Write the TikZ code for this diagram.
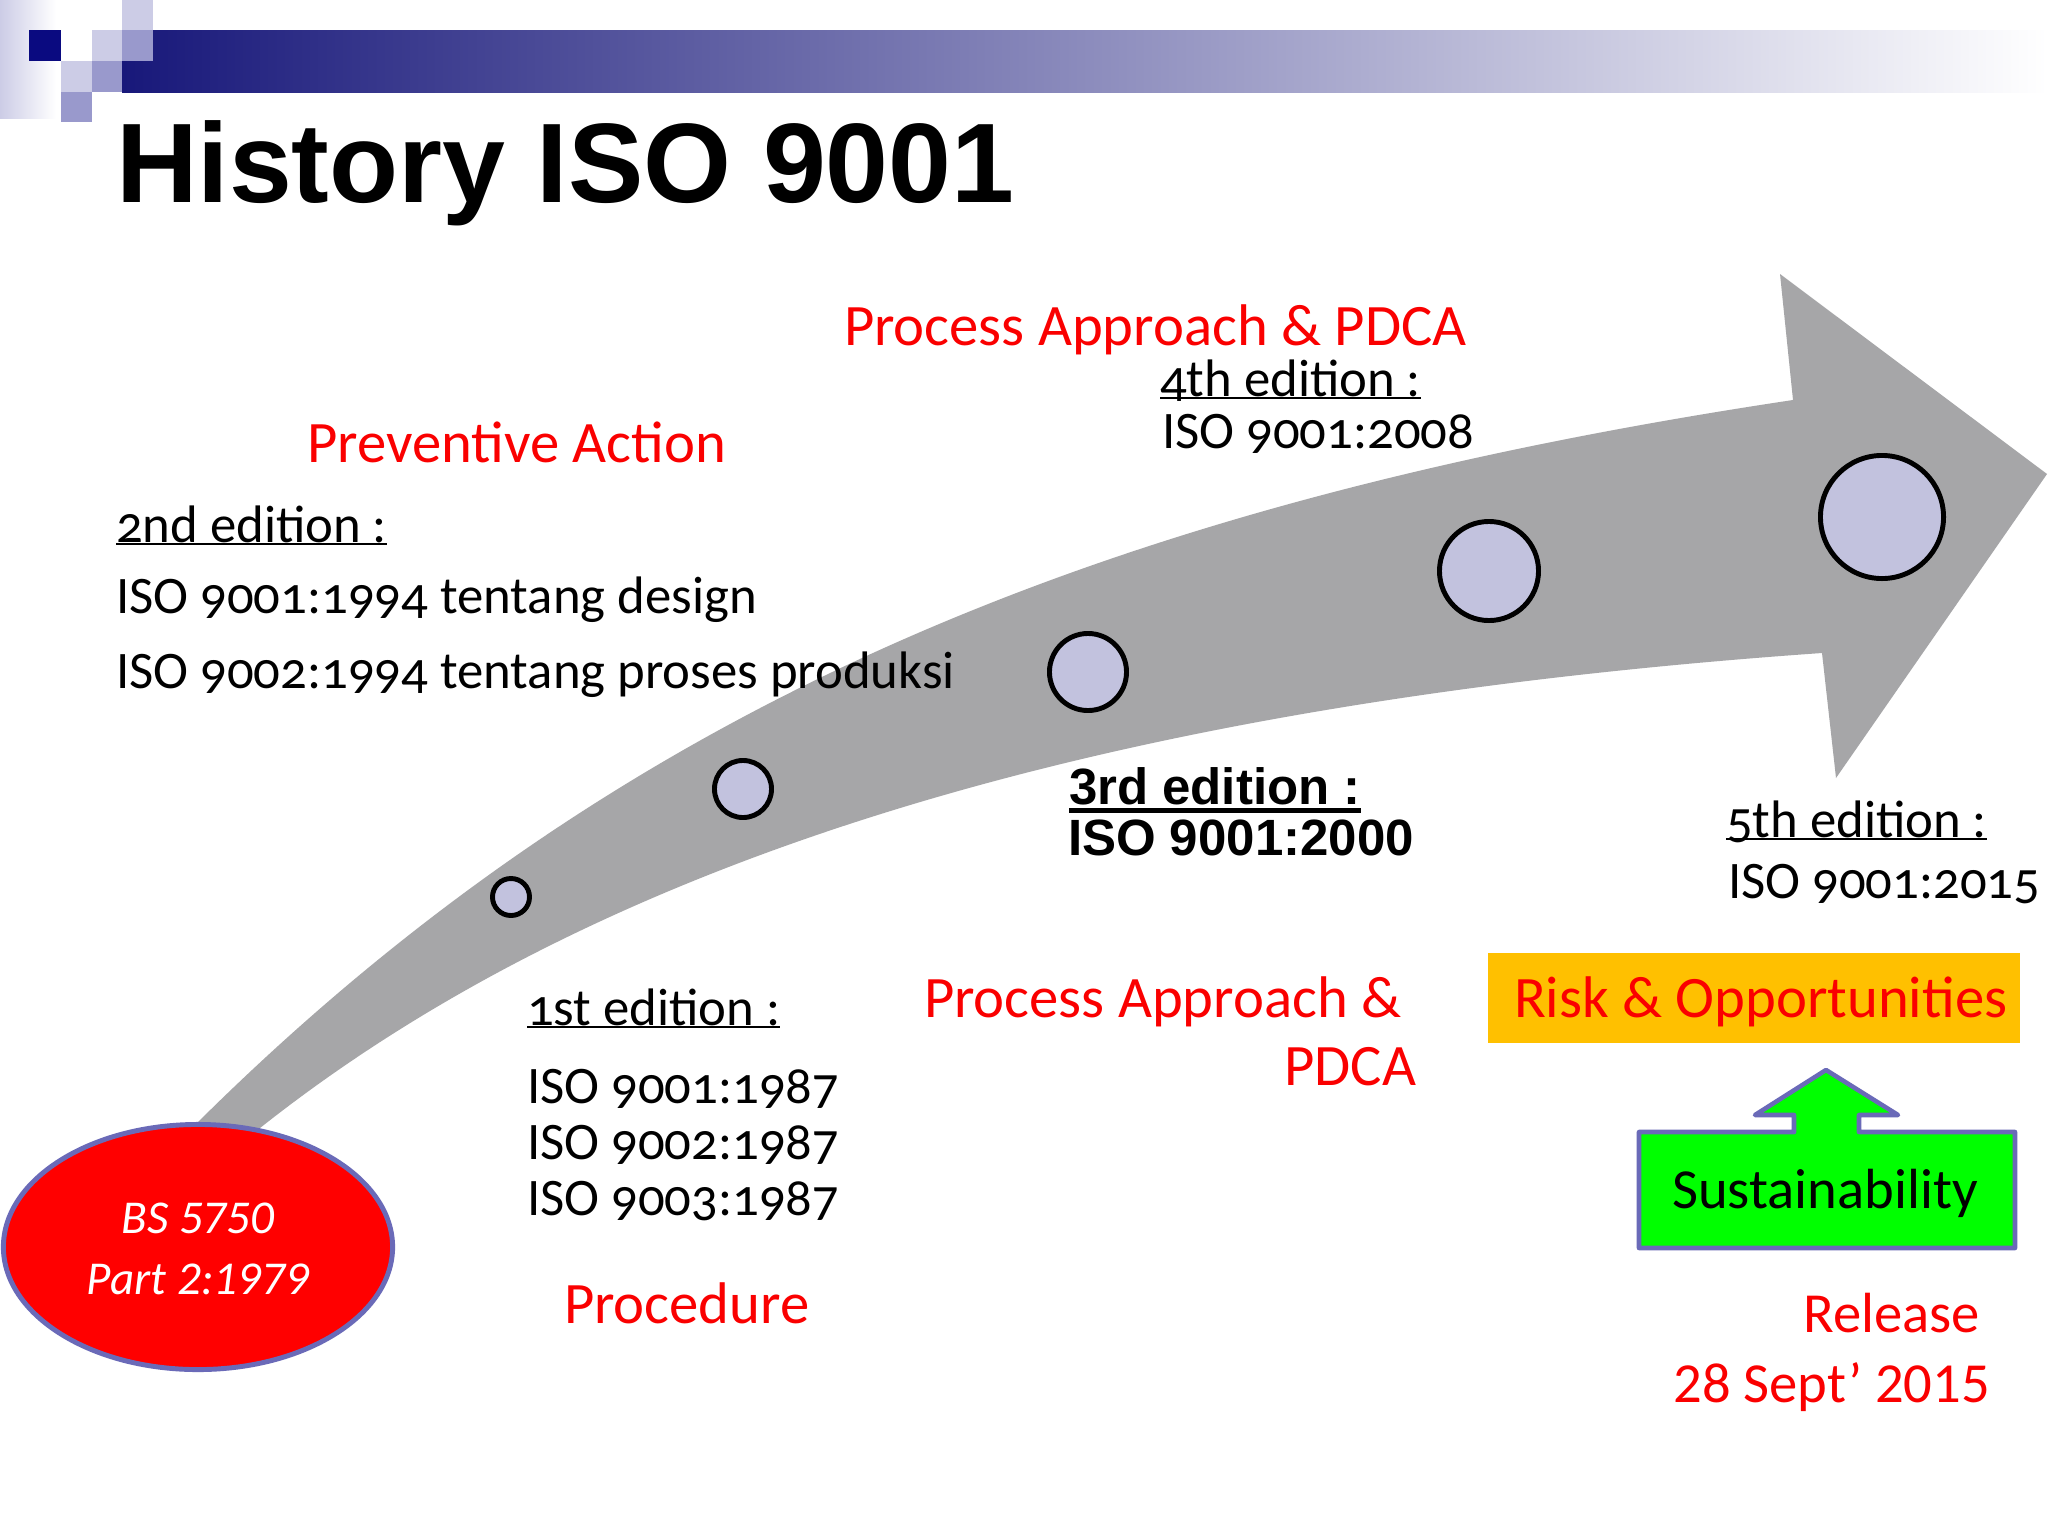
\documentclass[tikz,border=0pt]{standalone}
\usepackage{fontspec}
\setmainfont{Carlito}[Numbers=OldStyle]
\newfontfamily\liningfont{Carlito}
\newfontfamily\arialfont{Liberation Sans}
\usetikzlibrary{shapes.geometric}
\definecolor{navy}{RGB}{10,10,128}
\definecolor{lavA}{RGB}{204,204,230}
\definecolor{lavB}{RGB}{153,153,204}
\definecolor{barL}{RGB}{24,24,122}
\definecolor{agray}{RGB}{166,166,168}
\definecolor{dotfill}{RGB}{194,194,222}
\definecolor{edgeblue}{RGB}{106,106,184}
\definecolor{riskfill}{RGB}{255,192,0}
\definecolor{txtred}{RGB}{250,0,0}
\definecolor{sgreen}{RGB}{0,255,0}
\newcommand\ulthin[1]{\setbox0\hbox{#1}\rlap{\rule[-0.85pt]{\wd0}{0.55pt}}\box0}
\newcommand\ulthick[1]{\setbox0\hbox{#1}\rlap{\rule[-2.55pt]{\wd0}{1.3pt}}\box0}
\tikzset{
  txt/.style={inner sep=0pt, outer sep=0pt, anchor=base west},
  redtxt/.style={txt, text=txtred, font=\fontsize{16.7pt}{19pt}\selectfont},
  blktxt/.style={txt, text=black, font=\fontsize{15.0pt}{18pt}\selectfont},
  boldtxt/.style={txt, text=black, font=\arialfont\bfseries\fontsize{14.5pt}{17pt}\selectfont},
  titletxt/.style={txt, text=black, font=\arialfont\bfseries\fontsize{32.15pt}{38pt}\selectfont},
  elltxt/.style={inner sep=0pt, anchor=base, text=white, font=\liningfont\itshape\fontsize{13.4pt}{16pt}\selectfont},
  bigtxt/.style={txt, font=\liningfont\fontsize{16.1pt}{19pt}\selectfont},
  dot/.style={circle, draw=black, line width=1.4pt, fill=dotfill, inner sep=0pt},
}
\begin{document}
\begin{tikzpicture}[x=0.01cm, y=-0.01cm]
\useasboundingbox (0,0) rectangle (2048,1536);
\fill[white] (0,0) rectangle (2048,1536);
% top decoration
\shade[left color=lavA, right color=white] (0,0) rectangle (56,118);
\shade[left color=barL, right color=white] (122,30) rectangle (2048,92);
\fill[lavA] (122,0) rectangle (153,30);
\fill[navy] (29,30) rectangle (61,61);
\fill[lavA] (92,30) rectangle (122,61);
\fill[lavB] (122,30) rectangle (153,61);
\fill[lavA] (61,61) rectangle (92,92);
\fill[lavB] (92,61) rectangle (122,92);
\fill[lavB] (61,92) rectangle (92,122);
\node[titletxt] (title) at (116,202) {History ISO 9001};
% big gray arrow
\fill[agray] (190,1130) .. controls (610,710) and (1093,505) .. (1793,400)
  -- (1780,274) -- (2047,474) -- (1836,778) -- (1822,653)
  .. controls (1122,702) and (605,852) .. (255,1132) -- cycle;
% milestones
\node[dot, minimum size=0.37cm] (c1) at (511,897) {};
\node[dot, minimum size=0.57cm] (c2) at (743,789) {};
\node[dot, minimum size=0.77cm] (c3) at (1088,672) {};
\node[dot, minimum size=0.99cm] (c4) at (1489,571) {};
\node[dot, minimum size=1.23cm] (c5) at (1882,517) {};
% origin ellipse
\node[ellipse, draw=edgeblue, line width=1.4pt, fill=red, minimum width=3.89cm, minimum height=2.45cm, inner sep=0pt] (bs) at (198,1247) {};
\node[elltxt] (bs1) at (198,1233) {BS 5750};
\node[elltxt] (bs2) at (198,1294) {Part 2:1979};
% 2nd edition
\node[redtxt] (prev) at (307,462) {Preventive Action};
\node[blktxt] (ed2) at (116,542) {\ulthin{2nd edition :}};
\node[blktxt] (ed2a) at (116,613) {ISO 9001:1994 tentang design};
\node[blktxt] (ed2b) at (116,688) {ISO 9002:1994 tentang proses produksi};
% 4th edition
\node[redtxt] (pa1) at (844,345) {Process Approach \& PDCA};
\node[blktxt] (ed4) at (1160,396) {\ulthin{4th edition :}};
\node[blktxt] (ed4a) at (1162,448) {ISO 9001:2008};
% 3rd edition
\node[boldtxt] (ed3) at (1069,804) {\ulthick{3rd edition :}};
\node[boldtxt] (ed3a) at (1068,855) {ISO 9001:2000};
\node[redtxt] (pa2) at (924,1017) {Process Approach \&};
\node[redtxt, anchor=base east] (pa3) at (1416,1085) {PDCA};
% 1st edition
\node[blktxt] (ed1) at (527,1025) {\ulthin{1st edition :}};
\node[blktxt] (ed1a) at (527,1103) {ISO 9001:1987};
\node[blktxt] (ed1b) at (527,1159) {ISO 9002:1987};
\node[blktxt] (ed1c) at (527,1215) {ISO 9003:1987};
\node[redtxt] (proc) at (564,1323) {Procedure};
% 5th edition
\node[blktxt] (ed5) at (1726,837) {\ulthin{5th edition :}};
\node[blktxt] (ed5a) at (1728,898) {ISO 9001:2015};
\node[rectangle, fill=riskfill, minimum width=5.32cm, minimum height=0.9cm, inner sep=0pt] (risk) at (1754,998) {};
\node[redtxt] (risktxt) at (1514,1017) {Risk \& Opportunities};
\draw[edgeblue, line width=1.3pt, fill=sgreen, line join=round]
  (1639,1132) -- (1794,1132) -- (1794,1115) -- (1755,1115) -- (1826,1070)
  -- (1898,1115) -- (1859,1115) -- (1859,1132) -- (2015,1132)
  -- (2015,1248) -- (1639,1248) -- cycle;
\node[bigtxt, text=black] (sust) at (1672,1208) {Sustainability};
\node[bigtxt, text=txtred, anchor=base east] (rel1) at (1980,1332) {Release};
\node[bigtxt, text=txtred, anchor=base east] (rel2) at (1990,1402) {28 Sept’ 2015};
\end{tikzpicture}
\end{document}
